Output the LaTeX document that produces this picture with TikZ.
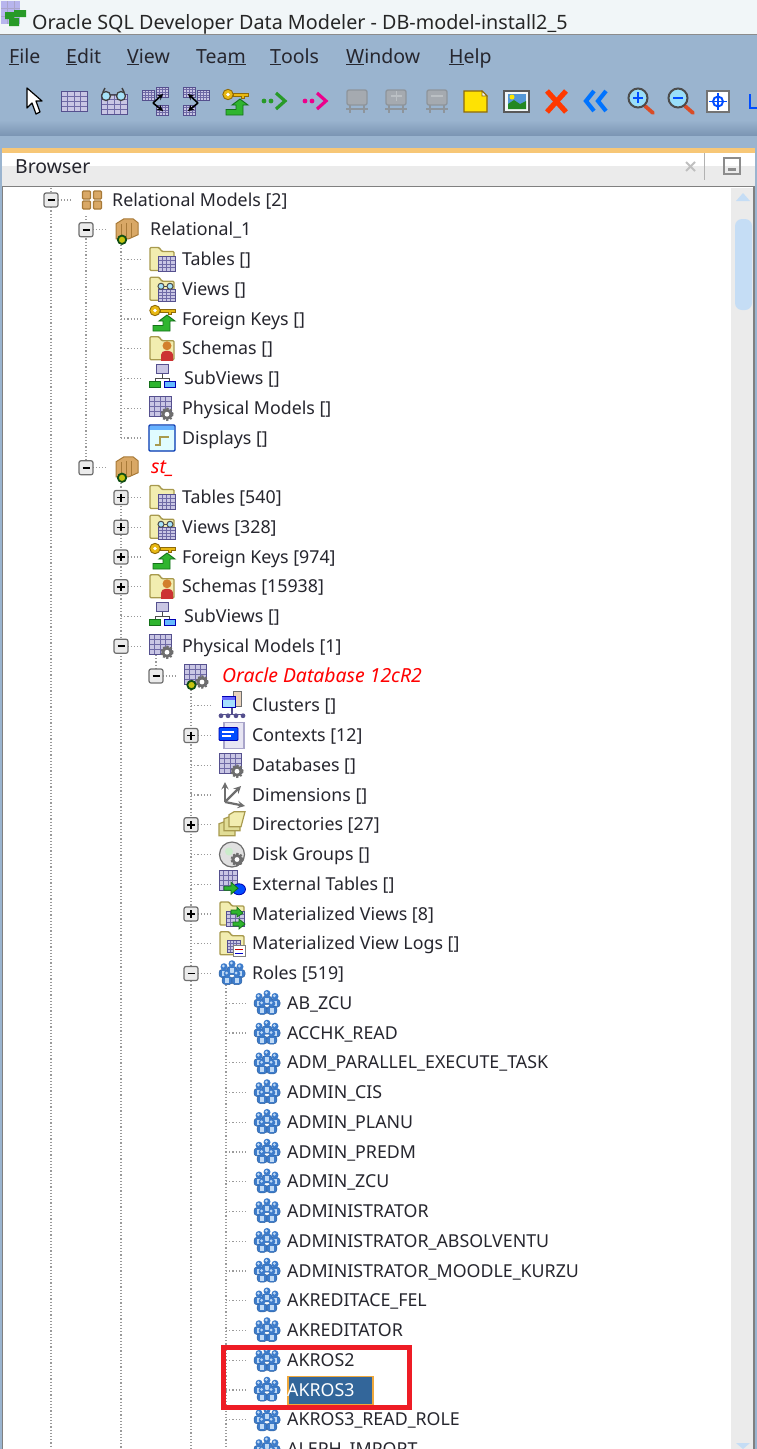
\documentclass[tikz,border=0pt]{standalone}
\usepackage{fontspec}
\setmainfont{Noto Sans}
\usetikzlibrary{calc}

\definecolor{barblue}{HTML}{9AB4CF}
\definecolor{bardark}{HTML}{7C96B4}
\definecolor{titlewhite}{HTML}{F1F6F8}
\definecolor{tabgrey}{HTML}{EBEBEB}
\definecolor{tabgold}{HTML}{F7C777}
\definecolor{rowink}{HTML}{26262E}
\definecolor{dotgray}{HTML}{9A9A9A}
\definecolor{folderfill}{HTML}{F2EDB0}
\definecolor{folderedge}{HTML}{A89A4E}
\definecolor{gridfill}{HTML}{C9C6E4}
\definecolor{gridline}{HTML}{6F6AA6}
\definecolor{gridedge}{HTML}{55508E}
\definecolor{gearcol}{HTML}{6E6E6E}
\definecolor{woodfill}{HTML}{D9A866}
\definecolor{woodedge}{HTML}{A87A38}
\definecolor{keygold}{HTML}{E8B812}
\definecolor{keyedge}{HTML}{8E6A08}
\definecolor{arrowgreen}{HTML}{2FB52F}
\definecolor{darkgreen}{HTML}{15701A}
\definecolor{roleblue}{HTML}{3D7CCB}
\definecolor{rolelight}{HTML}{BFD9F5}
\definecolor{selblue}{HTML}{33669A}
\definecolor{selorange}{HTML}{EFA83C}
\definecolor{markred}{HTML}{EE1C25}
\definecolor{thumbblue}{HTML}{C5DDF5}
\definecolor{toolgrey}{HTML}{8E959C}

% grid of a table icon: x1,y1,x2,y2
\newcommand{\gridcells}[4]{
  \fill[gridfill] (#1,#2) rectangle (#3,#4);
  \foreach \gt in {.25,.5,.75} {
    \draw[gridline,line width=.7pt] ($(#1,#2)!\gt!(#3,#2)$) -- ($(#1,#4)!\gt!(#3,#4)$);
    \draw[gridline,line width=.7pt] ($(#1,#2)!\gt!(#1,#4)$) -- ($(#3,#2)!\gt!(#3,#4)$);
  }
  \draw[gridedge,line width=1pt] (#1,#2) rectangle (#3,#4);
}

\tikzset{
  treeline/.style={draw=dotgray,line width=1.2pt,dash pattern=on 1.2pt off 2pt},
  rowtext/.style={anchor=base west,inner sep=0pt,text=rowink,font=\fontsize{17.8}{19}\selectfont},
  menutext/.style={anchor=base west,inner sep=0pt,text=rowink,font=\fontsize{19.5}{21}\selectfont},
  redtext/.style={text=red,font=\fontsize{19.4}{21}\selectfont\itshape},
  selbox/.style={draw=selorange,fill=selblue,line width=1.2pt,minimum width=85pt,minimum height=28pt,inner sep=0pt},
  person/.pic={
    \draw[roleblue!80!black,fill=roleblue,rounded corners=3pt,line width=.5pt] (-5,9) -- (-5,1) -- (5,1) -- (5,9) -- cycle;
    \fill[rolelight] (-1.8,7.5) rectangle (1.8,2.6);
    \fill[roleblue] (0,-1.8) circle (3.5);
    \fill[rolelight] (-.6,-2.5) circle (1.5);
  },
  roleicon/.pic={
    \pic at (-8,-5) {person};
    \pic at (8,-5) {person};
    \pic at (0,-8) {person};
    \pic at (-4.8,2) {person};
    \pic at (4.8,2) {person};
  },
  gearicon/.pic={
    \draw[gearcol,line width=2.2pt,dash pattern=on 2pt off 1.6pt] (0,0) circle (5.6);
    \fill[gearcol] (0,0) circle (5.6);
    \fill[white] (0,0) circle (2.4);
  },
  minusbox/.pic={
    \draw[gearcol,fill=tabgrey,rounded corners=2pt,line width=1.2pt] (-7,-7) rectangle (7,7);
    \draw[black,line width=1.6pt] (-3.5,0) -- (3.5,0);
  },
  plusbox/.pic={
    \draw[gearcol,fill=tabgrey,rounded corners=2pt,line width=1.2pt] (-7,-7) rectangle (7,7);
    \draw[black,line width=1.5pt] (-4,0) -- (4,0) (0,-4) -- (0,4);
  },
  foldericon/.pic={
    \path[fill=folderfill,draw=folderedge,line width=1.4pt,rounded corners=1pt]
      (-12,11) -- (-12,-12) -- (-3,-12) -- (0,-8) -- (12,-8) -- (12,11) -- cycle;
  },
  tablesicon/.pic={
    \pic {foldericon};
    \gridcells{-4}{-3}{13}{12}
  },
  viewsicon/.pic={
    \pic {foldericon};
    \gridcells{-4}{0}{13}{12}
    \draw[black!70,fill=cyan!35,line width=1pt] (-1,-3) circle (3) (8,-3) circle (3);
    \draw[black!70,line width=1pt] (2,-3) -- (5,-3);
  },
  schemaicon/.pic={
    \pic {foldericon};
    \fill[red!75!black!80] (-1,12) -- (-1,6) to[out=90,in=180] (4,2) to[out=0,in=90] (11,6) -- (11,12) -- cycle;
    \fill[brown!70!orange] (5,-3) circle (4.5);
  },
  keyicon/.pic={
    \draw[keyedge,fill=keygold,line width=.9pt] (-7,-8.5) circle (5.2);
    \fill[white] (-7,-8.5) circle (1.8);
    \draw[keyedge,fill=keygold,line width=.9pt] (-2,-10) -- (13,-10) -- (13,-6.5) -- (9,-6.5) -- (9,-5) -- (6,-5) -- (6,-6.5) -- (-2,-6.5) -- cycle;
    \draw[darkgreen,fill=arrowgreen,line width=.9pt] (-9,12) -- (-9,6.5) -- (1,6.5) -- (1,2) -- (-3,2) -- (5,-4) -- (13,2) -- (8,2) -- (8,12) -- cycle;
  },
  subviewicon/.pic={
    \draw[gridedge,fill=gridfill,line width=1pt] (-6,-14) rectangle (6,-5);
    \draw[black!70,line width=1pt] (0,-5) -- (0,0) (-7,3) -- (-7,0) -- (7,0) -- (7,3);
    \draw[darkgreen,fill=arrowgreen,line width=1pt] (-13,3) rectangle (-2,9);
    \draw[blue!70!black,fill=blue!45!cyan!60,line width=1pt] (2,3) rectangle (13,9);
  },
  physicalicon/.pic={
    \gridcells{-13}{-12}{9}{8}
    \pic at (5,6) {gearicon};
  },
  displayicon/.pic={
    \draw[blue!70!cyan!70!black,fill=blue!10!cyan!12,rounded corners=1pt,line width=1.3pt] (-13,-13) rectangle (13,13);
    \fill[blue!50!cyan!60] (-12,-12) rectangle (12,-8);
    \draw[folderedge,line width=1.5pt] (-7,7) -- (-2,7) -- (-2,-1) -- (7,-1);
  },
  cubeicon/.pic={
    \path[fill=woodfill,draw=woodedge,line width=1pt] (-11,-6) -- (-3,-11) -- (6,-11) -- (11,-7) -- (11,5) -- (2,9) -- (-11,9) -- cycle;
    \draw[woodedge,line width=.9pt] (-6,-6) -- (-6,9) (-1,-7) -- (-1,9) (4,-7) -- (4,8);
    \draw[darkgreen!70!black,fill=keygold!85!green,line width=1.8pt] (-5,10) circle (4.2);
  },
  relmodelsicon/.pic={
    \foreach \qx/\qy in {-5.5/-5,5.5/-5,-5.5/5,5.5/5}
      \draw[woodedge,fill=woodfill,rounded corners=1pt,line width=1.4pt] (\qx-4,\qy-4) rectangle (\qx+4,\qy+4);
  },
  clustericon/.pic={
    \draw[gearcol,fill=brown!35,line width=.8pt] (1,-14) rectangle (9,1);
    \draw[blue!70!black,fill=blue!35!cyan!35,line width=1pt] (-10,-9) rectangle (3,2);
    \fill[blue!60] (-10,-9) rectangle (3,-6);
    \draw[gridedge,line width=1.2pt] (-10,9) -- (10,9) (0,2) -- (0,9);
    \foreach \qx in {-11,-4,4,11} \fill[gridedge] (\qx,10) circle (2.4);
  },
  contexticon/.pic={
    \draw[gridline!60,fill=gridfill!45,line width=1.2pt] (-8,-13) rectangle (12,13);
    \draw[blue!70!black,fill=blue!70!cyan,rounded corners=1pt,line width=.8pt] (-13,-8) rectangle (6,5);
    \draw[white,line width=1.3pt] (-10,-3.5) -- (2,-3.5) (-10,.5) -- (-1,.5);
  },
  dimensionicon/.pic={
    \draw[gearcol,line width=2.2pt,-stealth] (-7,7) -- (-7,-13);
    \draw[gearcol,line width=2.2pt,-stealth] (-7,7) -- (13,11);
    \draw[gearcol,line width=2.2pt,-stealth] (-7,7) -- (9,-9);
  },
  directoryicon/.pic={
    \path[fill=folderfill!85!olive,draw=folderedge,line width=1.2pt] (-13,-1) -- (-5,-4) -- (3,-4) -- (3,11) -- (-13,11) -- cycle;
    \path[fill=folderfill!85!olive,draw=folderedge,line width=1.2pt] (-8,-6) -- (0,-9) -- (8,-9) -- (8,6) -- (-8,6) -- cycle;
    \path[fill=folderfill,draw=folderedge,line width=1.2pt] (-3,-10) -- (2,-13) -- (13,-13) -- (9,2) -- (-3,2) -- cycle;
  },
  diskicon/.pic={
    \draw[gearcol,fill=black!12,line width=1.2pt] (0,0) circle (12.5);
    \fill[arrowgreen!25!white] (-3,-3) circle (4);
    \pic at (5,5) {gearicon};
  },
  externalicon/.pic={
    \gridcells{-13}{-14}{5}{6}
    \draw[blue!70!black,fill=blue!70!cyan,line width=.8pt] (7,5) ellipse (6.5 and 5.5);
    \draw[darkgreen,fill=arrowgreen,line width=.8pt] (-8,2) -- (-1,2) -- (-1,-2) -- (6,4) -- (-1,10) -- (-1,6) -- (-8,6) -- cycle;
  },
  mviewicon/.pic={
    \pic {foldericon};
    \gridcells{-6}{-3}{12}{12}
    \draw[darkgreen,fill=arrowgreen,line width=.7pt] (-1,-4) -- (5,-4) -- (5,-7) -- (11,-1) -- (5,3) -- (5,0) -- (-1,0) -- cycle;
    \draw[darkgreen,fill=arrowgreen,line width=.7pt] (1,8) -- (7,8) -- (7,5) -- (13,10) -- (7,15) -- (7,12) -- (1,12) -- cycle;
  },
  mvlogicon/.pic={
    \pic {foldericon};
    \gridcells{-5}{-3}{8}{9}
    \draw[black!50,fill=white,line width=.8pt] (1,2) rectangle (13,13);
    \draw[red!80!black,line width=1.2pt] (3,6) -- (11,6);
    \draw[blue!80!black,line width=1.2pt] (3,9.5) -- (11,9.5);
  },
  toolgrid/.pic={
    \gridcells{-13}{-10}{13}{10}
  },
  toolrelation/.pic={
    \gridcells{-13}{-11}{-1}{-1}
    \gridcells{1}{-14}{13}{-4}
    \gridcells{1}{4}{13}{14}
    \draw[black,line width=1.6pt,-stealth] (-2,2) -- (8,-7);
    \draw[black,line width=1.6pt,-stealth] (-2,2) -- (8,10);
  },
  dotarrow/.pic={
    \fill (-11,0) circle (2.4) (-4,0) circle (2.4);
    \draw[line width=3.2pt] (1,-8) -- (10,0) -- (1,8);
  },
  greytable/.pic={
    \draw[toolgrey,fill=toolgrey!80,rounded corners=2pt,line width=1.4pt] (-10,-11) rectangle (10,4);
    \draw[toolgrey,line width=1.4pt] (-7,4) -- (-7,12) (7,4) -- (7,12) (-11,8) -- (11,8);
  },
  lensicon/.pic={
    \draw[brown!60!red,line width=3.8pt,line cap=round] (5,6) -- (13,13);
    \draw[black!70,fill=cyan!40,line width=2pt] (-2,-2) circle (9.5);
    \fill[blue!70!cyan] (-7,-3.4) rectangle (3,-.6);
  }
}

% one tree row: name, x of its stem, row number, icon, text, optional text options
\newcommand{\treerow}[6][]{
  \pgfmathsetmacro\rowy{200+29.75*#4}
  \coordinate (#2stem) at (#3,\rowy);
  \coordinate (#2tip) at (#3+21,\rowy);
  \draw[treeline] (#2stem) -- (#2tip);
  \pic at (#3+41,\rowy) {#5};
  \node[rowtext,#1] (#2) at (#3+61,\rowy+6) {#6};
}

\begin{document}
\begin{tikzpicture}[x=1pt,y=-1pt]
  \clip (0,0) rectangle (757,1449);

  % window frame
  \fill[barblue] (0,0) rectangle (757,1449);
  \fill[titlewhite] (0,0) rectangle (757,34);
  \fill[black!45] (0,34) rectangle (757,35);
  \shade[top color=barblue,bottom color=bardark] (0,120) rectangle (757,135);

  % title bar
  \fill[blue!18!gridfill!80!white] (1,1) rectangle (20,24);
  \draw[gridline!60,line width=.6pt] (1,8) -- (20,8) (1,16) -- (20,16) (7,1) -- (7,24) (14,1) -- (14,24);
  \fill[arrowgreen!85!black] (5,12) rectangle (14,19) (14,10) rectangle (26,17) (9,18) rectangle (19,26);
  \node[anchor=base west,inner sep=0pt,text=black!85,font=\fontsize{19.76}{22}\selectfont] (titletext) at (32,29) {Oracle SQL Developer Data Modeler - DB-model-install2\_5};

  % menu bar
  \node[menutext] (menufile) at (9,63) {\underline{F}ile};
  \node[menutext] (menuedit) at (66,63) {\underline{E}dit};
  \node[menutext] (menuview) at (127,63) {\underline{V}iew};
  \node[menutext] (menuteam) at (196,63) {Tea\underline{m}};
  \node[menutext] (menutools) at (270,63) {\underline{T}ools};
  \node[menutext] (menuwindow) at (346,63) {\underline{W}indow};
  \node[menutext] (menuhelp) at (449,63) {\underline{H}elp};

  % toolbar
  \draw[black,fill=white,line width=1.2pt,line join=round] (27,88) -- (27,108) -- (32,103) -- (36,114) -- (40,112) -- (36,101) -- (42,101) -- cycle;
  \pic at (74,101) {toolgrid};
  \pic at (114,104) {toolgrid};
  \draw[black!75,fill=cyan!35,line width=1.3pt] (106,96) circle (4.5) (121,96) circle (4.5);
  \draw[black!75,line width=1.4pt] (110,95) -- (117,95) (103,92) -- (105,88) (124,92) -- (122,88);
  \pic at (155,101) {toolrelation};
  \pic[xscale=-1] at (196,101) {toolrelation};
  \pic at (235,103) {keyicon};
  \pic[arrowgreen!85!black,fill=arrowgreen!85!black,draw=arrowgreen!85!black] at (275,101) {dotarrow};
  \pic[magenta,fill=magenta,draw=magenta] at (316,101) {dotarrow};
  \pic at (357,101) {greytable};
  \pic at (396,101) {greytable};
  \draw[toolgrey!60!white,line width=1.5pt] (391,96) -- (402,96) (396.5,91) -- (396.5,101);
  \pic at (437,101) {greytable};
  \draw[toolgrey!60!white,line width=1.5pt] (431,96) -- (443,96);
  \draw[keyedge,fill=yellow!85!orange,line width=1.3pt] (464,91) -- (482,91) -- (487,96) -- (487,112) -- (464,112) -- cycle;
  \draw[keyedge,fill=titlewhite,line width=.8pt] (482,91) -- (482,96) -- (487,96) -- cycle;
  \draw[black!65,fill=titlewhite,line width=1.6pt] (504,91) rectangle (529,112);
  \fill[cyan!60!blue!70] (508,94) rectangle (526,106);
  \fill[arrowgreen!75!black] (508,109) -- (508,104) -- (514,100) -- (520,104) -- (526,101) -- (526,109) -- cycle;
  \fill[yellow!90!orange] (512,97) circle (2.5);
  \draw[red!55!orange,line width=5.2pt] (547,91) -- (566,112) (566,91) -- (547,112);
  \draw[blue!55!cyan,line width=4.2pt] (594,91) -- (586,101) -- (594,111) (606,91) -- (598,101) -- (606,111);
  \pic at (640,100) {lensicon};
  \fill[blue!70!cyan] (636.6,91.5) rectangle (639.4,103);
  \pic at (680,100) {lensicon};
  \draw[black!55,fill=white,line width=1.5pt] (707,91) rectangle (729,112);
  \draw[blue!70!cyan,line width=1.9pt] (718,93) -- (718,110) (709,101.5) -- (727,101.5);
  \draw[blue!70!cyan,line width=1.9pt] (718,101.5) circle (5);
  \draw[blue!70!cyan,line width=2.2pt] (750,94) -- (750,108) -- (757,108);

  % browser panel
  \fill[tabgold] (2,148) rectangle (755,153);
  \fill[white] (2,153) rectangle (755,166);
  \fill[tabgrey] (2,166) rectangle (755,186);
  \fill[white] (3,187) rectangle (754,1449);
  \draw[black!50,line width=1.2pt] (2.5,1449) -- (2.5,186.5) -- (754,186.5) -- (754,1449);
  \node[anchor=base west,inner sep=0pt,text=rowink,font=\fontsize{19.4}{21}\selectfont] (browsertab) at (15,173) {Browser};
  \draw[black!25,line width=2pt] (686,162) -- (695,171) (695,162) -- (686,171);
  \draw[white!70!black,line width=1pt] (704.5,153) -- (704.5,180);
  \draw[black!45,line width=1.4pt] (724,158) rectangle (740,174);
  \fill[black!45] (728,168) rectangle (736,171);

  % scroll bar
  \fill[tabgrey] (731,188) rectangle (753.4,1449);
  \fill[thumbblue] (743,193) -- (750,201) -- (736,201) -- cycle;
  \fill[thumbblue,rounded corners=7pt] (735,219) rectangle (752,310);
  \fill[thumbblue] (743,1449) -- (736,1443) -- (750,1443) -- cycle;

  % tree stems
  \coordinate (stemAtop) at (51,188);
  \coordinate (stemAend) at (51,1449);
  \coordinate (stemBtop) at (86,216);
  \coordinate (stemBend) at (86,461);
  \coordinate (stemCtop) at (121,245);
  \coordinate (stemCend) at (121,438);
  \coordinate (stemDtop) at (121,480);
  \coordinate (stemDend) at (121,1449);
  \coordinate (stemEtop) at (156,655);
  \coordinate (stemEend) at (156,669);
  \coordinate (stemFtop) at (191,690);
  \coordinate (stemFend) at (191,1449);
  \coordinate (stemGtop) at (226,985);
  \coordinate (stemGend) at (226,1449);
  \foreach \stemname in {A,B,C,D,E,F,G}
    \draw[treeline] (stem\stemname top) -- (stem\stemname end);

  % selected row, under its text
  \node[selbox] (selrow) at (330.5,1390.5) {};

  % tree rows
  \treerow{relmodels}{51}{0}{relmodelsicon}{Relational Models [2]}
  \treerow{relone}{86}{1}{cubeicon}{\hspace{3pt}Relational\_1}
  \treerow{tablesA}{121}{2}{tablesicon}{Tables []}
  \treerow{viewsA}{121}{3}{viewsicon}{Views []}
  \treerow{keysA}{121}{4}{keyicon}{Foreign Keys []}
  \treerow{schemasA}{121}{5}{schemaicon}{Schemas []}
  \treerow{subviewsA}{121}{6}{subviewicon}{\hspace{2pt}SubViews []}
  \treerow{physA}{121}{7}{physicalicon}{Physical Models []}
  \treerow{displaysA}{121}{8}{displayicon}{Displays []}
  \treerow[redtext]{relst}{86}{9}{cubeicon}{\hspace{4pt}st\_}
  \treerow{tablesB}{121}{10}{tablesicon}{Tables [540]}
  \treerow{viewsB}{121}{11}{viewsicon}{Views [328]}
  \treerow{keysB}{121}{12}{keyicon}{Foreign Keys [974]}
  \treerow{schemasB}{121}{13}{schemaicon}{Schemas [15938]}
  \treerow{subviewsB}{121}{14}{subviewicon}{\hspace{2pt}SubViews []}
  \treerow{physB}{121}{15}{physicalicon}{Physical Models [1]}
  \treerow[redtext]{oracle}{156}{16}{physicalicon}{\hspace{5pt}Oracle Database 12cR2}
  \draw[darkgreen!70!black,fill=keygold!85!green,line width=1.8pt] (191.5,685) circle (4.2);
  \treerow{clusters}{191}{17}{clustericon}{Clusters []}
  \treerow{contexts}{191}{18}{contexticon}{Contexts [12]}
  \treerow{databases}{191}{19}{physicalicon}{Databases []}
  \treerow{dimensions}{191}{20}{dimensionicon}{Dimensions []}
  \treerow{directories}{191}{21}{directoryicon}{Directories [27]}
  \treerow{diskgroups}{191}{22}{diskicon}{Disk Groups []}
  \treerow{externals}{191}{23}{externalicon}{External Tables []}
  \treerow{mviews}{191}{24}{mviewicon}{Materialized Views [8]}
  \treerow{mvlogs}{191}{25}{mvlogicon}{Materialized View Logs []}
  \treerow{roles}{191}{26}{roleicon}{Roles [519]}
  \foreach \ri/\rolename in {27/AB\_ZCU,28/ACCHK\_READ,29/ADM\_PARALLEL\_EXECUTE\_TASK,30/ADMIN\_CIS,31/ADMIN\_PLANU,32/ADMIN\_PREDM,33/ADMIN\_ZCU,34/ADMINISTRATOR,35/ADMINISTRATOR\_ABSOLVENTU,36/ADMINISTRATOR\_MOODLE\_KURZU,37/AKREDITACE\_FEL,38/AKREDITATOR,39/AKROS2,41/AKROS3\_READ\_ROLE,42/ALEPH\_IMPORT}
    \treerow{role\ri}{226}{\ri}{roleicon}{\rolename};
  \treerow[text=white]{role40}{226}{40}{roleicon}{AKROS3}

  % expander boxes
  \pic at (relmodelsstem) {minusbox};
  \pic at (relonestem) {minusbox};
  \pic at (relststem) {minusbox};
  \pic at (physBstem) {minusbox};
  \pic at (oraclestem) {minusbox};
  \pic at (rolesstem) {minusbox};
  \foreach \boxrow in {tablesB,viewsB,keysB,schemasB,contexts,directories,mviews}
    \pic at (\boxrow stem) {plusbox};

  % highlight
  \draw[markred,line width=5pt] (223.5,1347.5) rectangle (409.5,1407.5);
\end{tikzpicture}
\end{document}
